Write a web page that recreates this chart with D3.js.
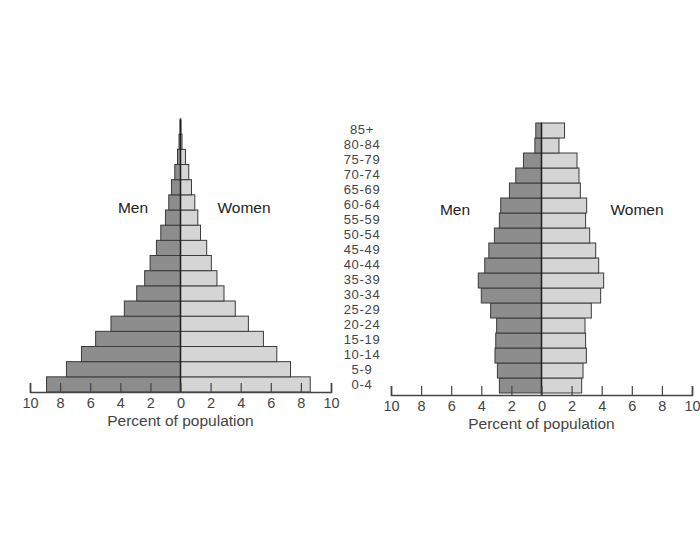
<!DOCTYPE html>
<html>
<head>
<meta charset="utf-8">
<script src="https://cdn.jsdelivr.net/npm/d3@7"></script>
<style>
  html, body { margin: 0; padding: 0; background: #fff; }
  svg { display: block; font-family: "Liberation Sans", Arial, Helvetica, sans-serif; }
</style>
</head>
<body>
<svg id="chart" width="700" height="550"></svg>
<script>
// ---- data ----
const ages = ["0-4","5-9","10-14","15-19","20-24","25-29","30-34","35-39","40-44",
              "45-49","50-54","55-59","60-64","65-69","70-74","75-79","80-84","85+"];
const leftMen    = [8.9, 7.58, 6.58, 5.64, 4.62, 3.73, 2.91, 2.38, 2.02, 1.6, 1.31, 1.0, 0.78, 0.6, 0.38, 0.2, 0.1, 0.03];
const leftWomen  = [8.62, 7.31, 6.4, 5.51, 4.51, 3.64, 2.89, 2.42, 2.05, 1.74, 1.33, 1.15, 0.95, 0.73, 0.55, 0.33, 0.1, 0.03];
const rightMen   = [2.8, 2.93, 3.09, 3.04, 2.98, 3.38, 4.0, 4.2, 3.77, 3.5, 3.13, 2.8, 2.71, 2.13, 1.71, 1.2, 0.44, 0.38];
const rightWomen = [2.67, 2.76, 2.98, 2.93, 2.89, 3.31, 3.93, 4.13, 3.8, 3.6, 3.2, 2.93, 3.0, 2.58, 2.49, 2.36, 1.16, 1.53];
const tickValues = [-10, -8, -6, -4, -2, 0, 2, 4, 6, 8, 10];
const axisTitle = "Percent of population";
const menLabel = "Men";
const womenLabel = "Women";

const svg = d3.select("#chart");
const menFill = "#8d8d8d", womenFill = "#d5d5d5", stroke = "#3a3a3a", textCol = "#444";

function pyramid(cfg) {
  const x = d3.scaleLinear().domain([-10, 10]).range([cfg.x0, cfg.x1]);
  const y = d3.scaleBand().domain(ages).range([cfg.yBottom, cfg.yTop]).paddingInner(0);
  const g = svg.append("g");
  const rows = ages.map((a, i) => ({ age: a, men: cfg.men[i], women: cfg.women[i] }));

  g.selectAll("rect.men").data(rows).join("rect")
    .attr("class", "men")
    .attr("x", d => x(-d.men))
    .attr("y", d => y(d.age))
    .attr("width", d => x(0) - x(-d.men))
    .attr("height", y.bandwidth())
    .attr("fill", menFill).attr("stroke", stroke).attr("stroke-width", 1);

  g.selectAll("rect.women").data(rows).join("rect")
    .attr("class", "women")
    .attr("x", x(0))
    .attr("y", d => y(d.age))
    .attr("width", d => x(d.women) - x(0))
    .attr("height", y.bandwidth())
    .attr("fill", womenFill).attr("stroke", stroke).attr("stroke-width", 1);

  // center line
  g.append("line")
    .attr("x1", x(0)).attr("x2", x(0))
    .attr("y1", cfg.lineTop).attr("y2", cfg.yAxis)
    .attr("stroke", "#1e1e1e").attr("stroke-width", 1.5);

  // axis
  const axis = d3.axisBottom(x).tickValues(tickValues)
    .tickFormat(d => Math.abs(d))
    .tickSizeInner(-9).tickSizeOuter(-9).tickPadding(6);
  const ax = g.append("g").attr("transform", `translate(0,${cfg.yAxis})`).call(axis);
  ax.select(".domain").attr("stroke", "#444").attr("stroke-width", 1.6);
  ax.selectAll(".tick line").attr("stroke", "#444").attr("stroke-width", 1.2);
  ax.selectAll(".tick text").attr("font-size", 14.5).attr("fill", textCol)
    .attr("font-family", "'Liberation Sans', Arial, sans-serif");

  g.append("text").attr("x", x(0)).attr("y", cfg.yAxis + 34)
    .attr("text-anchor", "middle").attr("font-size", 15.5).attr("fill", textCol)
    .text(axisTitle);

  g.append("text").attr("x", cfg.menX).attr("y", cfg.labelY)
    .attr("text-anchor", "middle").attr("font-size", 15.5).attr("fill", "#222")
    .text(menLabel);
  g.append("text").attr("x", cfg.womenX).attr("y", cfg.labelY)
    .attr("text-anchor", "middle").attr("font-size", 15.5).attr("fill", "#222")
    .text(womenLabel);

  return { x, y };
}

pyramid({ x0: 30, x1: 331, yBottom: 392, yTop: 119, lineTop: 120, yAxis: 392,
          men: leftMen, women: leftWomen, menX: 133, womenX: 244, labelY: 213 });
const right = pyramid({ x0: 391, x1: 692, yBottom: 393, yTop: 123, lineTop: 123, yAxis: 395,
          men: rightMen, women: rightWomen, menX: 455, womenX: 637, labelY: 215 });

// age labels between the two pyramids
svg.append("g").selectAll("text").data(ages).join("text")
  .attr("x", 362)
  .attr("y", d => right.y(d) + right.y.bandwidth() / 2 - 1)
  .attr("dy", "0.35em")
  .attr("text-anchor", "middle")
  .attr("font-size", 13)
  .attr("letter-spacing", 0.7)
  .attr("fill", textCol)
  .text(d => d);
</script>
</body>
</html>
